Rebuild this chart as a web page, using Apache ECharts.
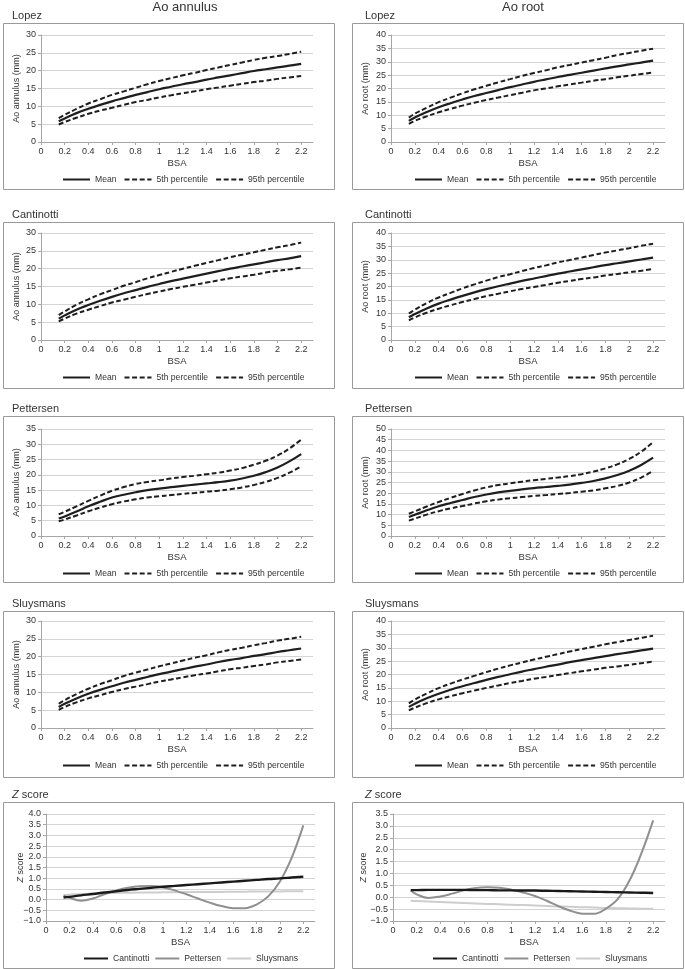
<!DOCTYPE html>
<html>
<head>
<meta charset="utf-8">
<script src="https://cdn.jsdelivr.net/npm/echarts@6/dist/echarts.min.js"></script>
<style>html,body{margin:0;padding:0;background:#fff}#c{width:685px;height:969px}</style>
</head>
<body>
<div id="c"></div>
<script>
// ---------- DATA ----------
const BSA = [0.15,0.2,0.3,0.4,0.5,0.6,0.7,0.8,0.9,1.0,1.1,1.2,1.3,1.4,1.5,1.6,1.7,1.8,1.9,2.0,2.1,2.2];
const xTicks = [0,0.2,0.4,0.6,0.8,1,1.2,1.4,1.6,1.8,2,2.2];
const legendNames = ['Mean','5th percentile','95th percentile'];
const zNames = ['Cantinotti','Pettersen','Sluysmans'];

// Ao annulus
const lopezAnnMean = [5.8,6.6,8.1,9.3,10.4,11.4,12.3,13.2,14.0,14.8,15.5,16.2,16.8,17.5,18.1,18.7,19.3,19.9,20.4,20.9,21.4,21.9];
const lopezAnnP5   = [4.9,5.6,6.8,7.9,8.8,9.6,10.4,11.2,11.8,12.5,13.1,13.7,14.2,14.8,15.3,15.8,16.3,16.8,17.2,17.7,18.1,18.5];
const lopezAnnP95  = [6.7,7.6,9.3,10.8,12.0,13.2,14.2,15.2,16.2,17.1,17.9,18.7,19.4,20.2,20.9,21.6,22.3,23.0,23.6,24.1,24.7,25.3];

const cantAnnMean = [6.0,6.9,8.5,9.8,11.0,12.1,13.1,14.0,14.9,15.7,16.5,17.2,17.9,18.6,19.3,20.0,20.6,21.2,21.8,22.4,22.9,23.5];
const cantAnnP5   = [5.2,6.0,7.4,8.5,9.5,10.5,11.3,12.1,12.9,13.6,14.3,14.9,15.5,16.1,16.7,17.3,17.8,18.3,18.9,19.4,19.8,20.3];
const cantAnnP95  = [7.0,8.0,9.9,11.4,12.8,14.0,15.2,16.2,17.3,18.2,19.1,20.0,20.8,21.6,22.4,23.2,23.9,24.6,25.3,26.0,26.6,27.3];

const pettAnnMean = [5.7,6.4,8.0,9.7,11.2,12.6,13.5,14.3,15.0,15.5,16.0,16.4,16.8,17.2,17.6,18.1,18.8,19.7,20.9,22.4,24.4,26.8];
const pettAnnP5   = [4.8,5.4,6.7,8.1,9.3,10.4,11.3,12.0,12.6,13.0,13.4,13.8,14.1,14.5,14.8,15.3,15.9,16.7,17.7,19.0,20.7,22.8];
const pettAnnP95  = [7.1,7.9,9.7,11.5,13.2,14.8,16.0,17.0,17.7,18.2,18.8,19.3,19.7,20.2,20.7,21.4,22.2,23.3,24.6,26.3,28.6,31.5];

const sluyAnnMean = [5.9,6.8,8.3,9.6,10.7,11.7,12.7,13.5,14.3,15.1,15.8,16.5,17.2,17.8,18.5,19.1,19.6,20.2,20.7,21.3,21.8,22.3];
const sluyAnnP5   = [5.1,5.9,7.2,8.3,9.2,10.1,10.9,11.6,12.3,13.0,13.6,14.2,14.8,15.3,15.9,16.5,16.9,17.4,17.8,18.4,18.8,19.2];
const sluyAnnP95  = [6.8,7.8,9.5,11.0,12.3,13.4,14.6,15.5,16.4,17.3,18.1,18.9,19.7,20.4,21.2,21.9,22.5,23.2,23.8,24.5,25.0,25.6];

// Ao root
const lopezRootMean = [7.9,9.2,11.2,13.0,14.5,15.9,17.2,18.3,19.4,20.5,21.5,22.5,23.4,24.3,25.1,25.9,26.7,27.5,28.3,29.0,29.7,30.4];
const lopezRootP5   = [6.8,7.9,9.6,11.1,12.4,13.6,14.7,15.7,16.6,17.5,18.4,19.3,20.0,20.8,21.5,22.2,22.9,23.5,24.2,24.8,25.4,26.0];
const lopezRootP95  = [9.1,10.6,12.8,14.9,16.6,18.2,19.7,21.0,22.3,23.5,24.7,25.8,26.8,27.9,28.8,29.7,30.6,31.5,32.5,33.3,34.1,34.9];

const cantRootMean = [8.5,9.7,11.8,13.6,15.1,16.5,17.8,19.0,20.1,21.1,22.1,23.0,23.9,24.8,25.6,26.4,27.2,28.0,28.7,29.4,30.1,30.8];
const cantRootP5   = [7.3,8.4,10.2,11.7,13.0,14.2,15.3,16.4,17.3,18.2,19.1,19.8,20.6,21.4,22.1,22.8,23.4,24.1,24.7,25.3,25.9,26.6];
const cantRootP95  = [9.9,11.3,13.8,15.9,17.6,19.3,20.8,22.2,23.5,24.6,25.8,26.9,27.9,29.0,29.9,30.8,31.8,32.7,33.5,34.3,35.2,36.0];

const pettRootMean = [8.9,9.9,12.0,13.9,15.4,16.8,18.2,19.4,20.4,21.1,21.8,22.4,22.9,23.4,24.0,24.8,25.7,26.9,28.5,30.5,33.2,36.6];
const pettRootP5   = [7.2,8.1,10.0,11.6,12.9,14.0,15.2,16.2,17.0,17.6,18.2,18.7,19.1,19.6,20.1,20.7,21.3,22.3,23.4,25.0,27.3,30.4];
const pettRootP95  = [10.4,11.5,13.8,15.9,17.8,19.6,21.3,22.7,23.8,24.6,25.4,26.1,26.7,27.3,28.0,28.9,30.1,31.6,33.5,36.0,39.4,43.8];

const sluyRootMean = [7.9,9.1,11.1,12.8,14.3,15.6,16.8,18.0,19.1,20.1,21.1,22.0,22.9,23.7,24.6,25.4,26.1,26.9,27.6,28.3,29.0,29.7];
const sluyRootP5   = [6.6,7.6,9.3,10.7,11.9,13.0,14.0,15.0,15.9,16.8,17.6,18.4,19.1,19.8,20.5,21.2,21.8,22.5,23.0,23.6,24.2,24.8];
const sluyRootP95  = [9.2,10.6,12.9,14.9,16.6,18.1,19.5,20.9,22.2,23.4,24.5,25.6,26.6,27.6,28.6,29.5,30.4,31.3,32.1,32.9,33.7,34.5];

// Z scores
const zAnnCant = [0.10,0.13,0.20,0.26,0.33,0.39,0.45,0.50,0.55,0.60,0.64,0.68,0.72,0.76,0.80,0.84,0.88,0.92,0.96,0.99,1.03,1.07];
const zAnnPett = [0.18,0.08,-0.05,0.05,0.25,0.42,0.55,0.62,0.63,0.57,0.43,0.25,0.05,-0.14,-0.30,-0.40,-0.40,-0.23,0.15,0.85,1.95,3.47];
const zAnnSluy = [0.22,0.23,0.26,0.28,0.30,0.31,0.32,0.33,0.33,0.34,0.34,0.35,0.35,0.36,0.36,0.37,0.37,0.38,0.38,0.38,0.39,0.39];
const zRootCant = [0.30,0.30,0.31,0.31,0.31,0.31,0.30,0.30,0.29,0.29,0.28,0.28,0.27,0.26,0.25,0.24,0.23,0.22,0.21,0.20,0.19,0.18];
const zRootPett = [0.28,0.12,-0.03,0.03,0.15,0.29,0.39,0.42,0.40,0.32,0.20,0.05,-0.15,-0.38,-0.57,-0.69,-0.70,-0.48,-0.08,0.70,1.84,3.23];
const zRootSluy = [-0.15,-0.16,-0.18,-0.20,-0.22,-0.24,-0.26,-0.28,-0.30,-0.32,-0.33,-0.35,-0.37,-0.39,-0.40,-0.42,-0.43,-0.45,-0.46,-0.47,-0.48,-0.49];

// ---------- PANELS ----------
const panels = [
  {label:'Lopez', col:0,row:0,yName:'Ao annulus (mm)',yMax:30,s:[lopezAnnMean,lopezAnnP5,lopezAnnP95]},
  {label:'Lopez', col:1,row:0,yName:'Ao root (mm)',yMax:40,s:[lopezRootMean,lopezRootP5,lopezRootP95]},
  {label:'Cantinotti', col:0,row:1,yName:'Ao annulus (mm)',yMax:30,s:[cantAnnMean,cantAnnP5,cantAnnP95]},
  {label:'Cantinotti', col:1,row:1,yName:'Ao root (mm)',yMax:40,s:[cantRootMean,cantRootP5,cantRootP95]},
  {label:'Pettersen', col:0,row:2,yName:'Ao annulus (mm)',yMax:35,s:[pettAnnMean,pettAnnP5,pettAnnP95]},
  {label:'Pettersen', col:1,row:2,yName:'Ao root (mm)',yMax:50,s:[pettRootMean,pettRootP5,pettRootP95]},
  {label:'Sluysmans', col:0,row:3,yName:'Ao annulus (mm)',yMax:30,s:[sluyAnnMean,sluyAnnP5,sluyAnnP95]},
  {label:'Sluysmans', col:1,row:3,yName:'Ao root (mm)',yMax:40,s:[sluyRootMean,sluyRootP5,sluyRootP95]},
  {label:'Z', col:0,row:4,z:true,yMin:-1,yMax:4,s:[zAnnCant,zAnnPett,zAnnSluy]},
  {label:'Z', col:1,row:4,z:true,yMin:-1,yMax:3.5,s:[zRootCant,zRootPett,zRootSluy]}
];

// ---------- LAYOUT ----------
const FONT = '"Liberation Sans", Arial, sans-serif';
const TXT = '#333';
const plotTop = [35, 233, 429, 621, 814];
const boxTop = [23, 222, 416, 611, 802];
const PH = 107, BOXH = 166;
const colCfg = [
  {gl:41, gw:272, zgl:46, zgw:269, bx:3, bw:331, lx:12, legL:62, zLegL:83, ng:20, zng:21},
  {gl:391, gw:274, zgl:393, zgw:272, bx:352, bw:331, lx:365, legL:414, zLegL:432, ng:21, zng:25}
];
const lineStyles = [
  {color:'#1e1e1e', width:2.2, type:'solid'},
  {color:'#1e1e1e', width:2, type:[5,2.6]},
  {color:'#1e1e1e', width:2, type:[5,2.6]}
];
const zStyles = [
  {color:'#1a1a1a', width:2.4, type:'solid'},
  {color:'#8f8f8f', width:2, type:'solid'},
  {color:'#cdcdcd', width:2, type:'solid'}
];

const grids=[], xAxes=[], yAxes=[], series=[], legends=[], graphics=[];

graphics.push({type:'text', x:185, y:7, style:{text:'Ao annulus', font:'13px '+FONT, fill:TXT, align:'center', verticalAlign:'middle'}});
graphics.push({type:'text', x:523, y:7, style:{text:'Ao root', font:'13px '+FONT, fill:TXT, align:'center', verticalAlign:'middle'}});

panels.forEach((p, i) => {
  const c = colCfg[p.col];
  const gl = p.z ? c.zgl : c.gl;
  const gw = p.z ? c.zgw : c.gw;
  const top = plotTop[p.row];
  grids.push({left:gl, top:top, width:gw, height:PH, containLabel:false});
  graphics.push({type:'rect', z:-10, shape:{x:c.bx+0.5, y:boxTop[p.row]+0.5, width:c.bw, height:BOXH},
    style:{fill:null, stroke:'#9a9a9a', lineWidth:1}});
  if (p.z) {
    graphics.push({type:'text', x:c.lx, y:boxTop[p.row]-7, style:{
      text:'{i|Z} score', font:'11px '+FONT, fill:TXT, verticalAlign:'middle',
      rich:{i:{fontStyle:'italic', fontSize:11, fontFamily:FONT, fill:TXT}}}});
  } else {
    graphics.push({type:'text', x:c.lx, y:boxTop[p.row]-7, style:{text:p.label, font:'11px '+FONT, fill:TXT, verticalAlign:'middle'}});
  }
  xAxes.push({
    type:'value', gridIndex:i, min:0, max:2.3,
    name:'BSA', nameLocation:'middle', nameGap:16, nameMoveOverlap:false,
    nameTextStyle:{fontFamily:FONT, fontSize:9.5, color:TXT},
    axisLine:{onZero:false, lineStyle:{color:'#a6a6a6', width:1}},
    axisTick:{show:true, length:3, customValues:xTicks, lineStyle:{color:'#a6a6a6'}},
    axisLabel:{customValues:xTicks, margin:5, fontFamily:FONT, fontSize:9, color:TXT},
    splitLine:{show:false}
  });
  yAxes.push({
    type:'value', gridIndex:i, min:p.z ? p.yMin : 0, max:p.yMax, interval:p.z ? 0.5 : 5,
    name:p.z ? '{i|Z} score' : p.yName, nameLocation:'middle', nameGap:p.z ? c.zng : c.ng,
    nameMoveOverlap:false,
    nameTextStyle:{fontFamily:FONT, fontSize:9, color:TXT, rich:{i:{fontStyle:'italic', fontFamily:FONT, fontSize:9, color:TXT}}},
    axisLine:{show:true, lineStyle:{color:'#a6a6a6', width:1}},
    axisTick:{show:true, length:3, lineStyle:{color:'#a6a6a6'}},
    axisLabel:{margin:5, fontFamily:FONT, fontSize:9, color:TXT,
      formatter: p.z ? (v => v.toFixed(1).replace('-', '\u2212')) : (v => String(v))},
    splitLine:{show:true, lineStyle:{color:'#d4d4d4', width:1}}
  });
  const names = p.z ? zNames : legendNames;
  const styles = p.z ? zStyles : lineStyles;
  p.s.forEach((arr, k) => {
    series.push({
      type:'line', name:names[k], xAxisIndex:i, yAxisIndex:i,
      data: BSA.map((x, j) => [x, arr[j]]),
      smooth:0.4, symbol:'none', showSymbol:false, silent:true, animation:false,
      lineStyle:{color:styles[k].color, width:styles[k].width, type:styles[k].type},
      itemStyle:{color:styles[k].color},
      z: p.z ? (k===0 ? 5 : (k===1 ? 4 : 3)) : 3
    });
  });
  legends.push({
    data:names, left:p.z ? c.zLegL : c.legL, top:top + 145 - 5,
    itemWidth:p.z ? 24 : 27, itemHeight:10, itemGap:p.z ? 5 : 7, selectedMode:false,
    itemStyle:{opacity:0, borderWidth:0},
    textStyle:{fontFamily:FONT, fontSize:8.6, color:TXT},
    padding:0
  });
});

const chart = echarts.init(document.getElementById('c'), null, {renderer:'canvas', width:685, height:969});
chart.setOption({
  animation:false,
  backgroundColor:'#ffffff',
  grid:grids, xAxis:xAxes, yAxis:yAxes, series:series, legend:legends, graphic:graphics
});
</script>
</body>
</html>
